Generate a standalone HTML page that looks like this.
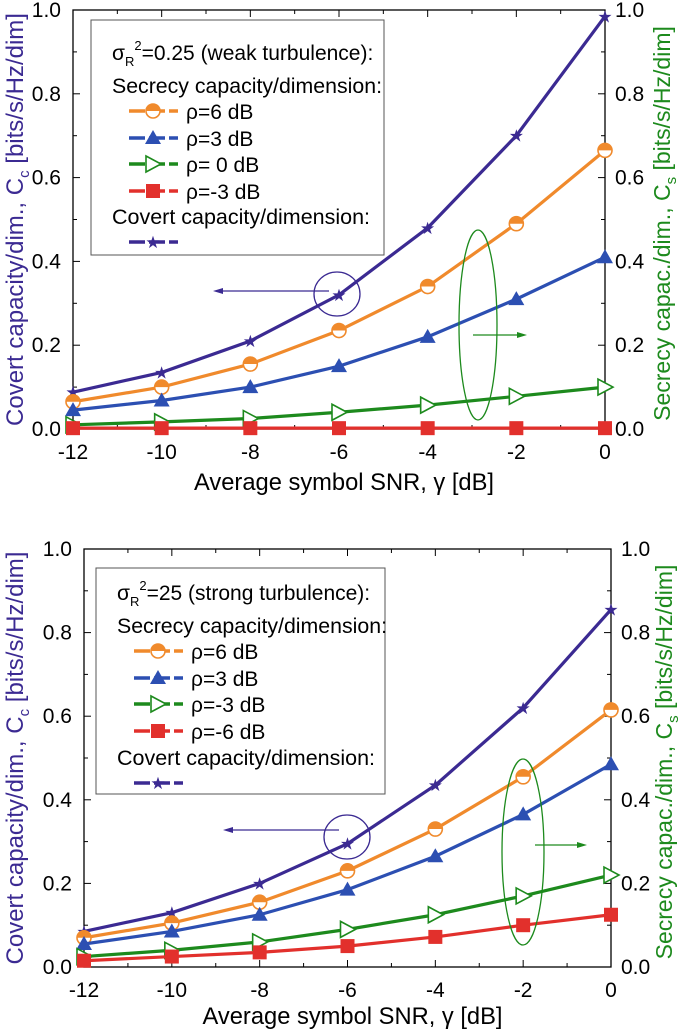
<!DOCTYPE html>
<html><head><meta charset="utf-8"><style>
body{margin:0;background:#fff}
svg{display:block;font-family:"Liberation Sans Narrow","Liberation Sans",sans-serif}
</style></head><body>
<svg id="s" width="685" height="1029" viewBox="0 0 685 1029"></svg>
<script>
const xCats=[-12,-10,-8,-6,-4,-2,0];
const yTicks=[0,0.2,0.4,0.6,0.8,1.0];
const topCovert=[0.088,0.135,0.21,0.32,0.48,0.70,0.985];
const topRho6=[0.065,0.10,0.155,0.235,0.34,0.49,0.665];
const topRho3=[0.045,0.068,0.10,0.15,0.22,0.31,0.41];
const topRho0=[0.01,0.017,0.025,0.04,0.057,0.078,0.10];
const topRhoM3=[0.002,0.002,0.002,0.002,0.002,0.002,0.002];
const botCovert=[0.085,0.13,0.20,0.295,0.435,0.62,0.855];
const botRho6=[0.07,0.105,0.155,0.23,0.33,0.455,0.615];
const botRho3=[0.055,0.085,0.125,0.185,0.265,0.365,0.485];
const botRhoM3=[0.025,0.04,0.06,0.09,0.125,0.17,0.22];
const botRhoM6=[0.015,0.025,0.035,0.05,0.072,0.10,0.125];
const NS='http://www.w3.org/2000/svg';
const svg=document.getElementById('s');
function el(t,a,p,txt){const e=document.createElementNS(NS,t);for(const k in a)e.setAttribute(k,a[k]);if(txt!==undefined)e.textContent=txt;(p||svg).appendChild(e);return e;}
const C={pur:'#3b2a92',org:'#f08a2c',blu:'#2c4fb2',grn:'#1d8a1d',red:'#e2302c'};
function marker(g,type,x,y,col){
  let m;
  if(type==='star'){m=el('text',{x:x,y:y+6,'text-anchor':'middle','font-size':17,fill:col,'font-family':'DejaVu Sans'},g,'★');}
  else if(type==='circ'){m=el('g',{},g);el('circle',{cx:x,cy:y,r:7,fill:'#fff',stroke:col,'stroke-width':1.6},m);el('path',{d:`M${x-7},${y} A7,7 0 0 1 ${x+7},${y} Z`,fill:col},m);}
  else if(type==='tri'){m=el('path',{d:`M${x},${y-8} L${x+8},${y+6} L${x-8},${y+6} Z`,fill:col},g);}
  else if(type==='rtri'){m=el('path',{d:`M${x-7},${y-8} L${x+8},${y} L${x-7},${y+8} Z`,fill:'#fff',stroke:col,'stroke-width':1.6},g);}
  else {m=el('rect',{x:x-7,y:y-7,width:14,height:14,fill:col},g);}
  
  
}
function chart(o){
  const g=el('g',{});
  
  
  const X=v=>o.x0+(v+12)/12*(o.x1-o.x0);
  const Y=v=>o.y0-v*(o.y0-o.y1);
  const L=o.leg;
  const lg=el('g',{},g);
  
  el('rect',{x:L.x,y:L.y,width:L.w,height:L.h,fill:'#fff',stroke:'#555','stroke-width':1},lg);
  const t1=el('text',{x:L.x+21,y:L.rows[0],'font-size':21},lg);
  t1.innerHTML='σ<tspan font-size="13" dy="6">R</tspan><tspan font-size="13" dy="-16">2</tspan><tspan dy="10">'+o.title+'</tspan>';
  el('text',{x:L.x+21,y:L.rows[1],'font-size':21,textLength:270,lengthAdjust:'spacingAndGlyphs'},lg,'Secrecy capacity/dimension:');
  o.series.slice(1).forEach((s,i)=>{const y=L.rows[2+i];
    el('line',{x1:L.x+38,y1:y-7,x2:L.x+87,y2:y-7,stroke:s.col,'stroke-width':3.5,'stroke-dasharray':'16,4'},lg);
    marker(lg,s.m,L.x+62,y-7,s.col);
    el('text',{x:L.x+95,y:y+1,'font-size':21},lg,s.label);});
  el('text',{x:L.x+21,y:L.rows[6],'font-size':21,textLength:258,lengthAdjust:'spacingAndGlyphs'},lg,'Covert capacity/dimension:');
  const ly=L.rows[7]-7;
  el('line',{x1:L.x+38,y1:ly,x2:L.x+87,y2:ly,stroke:C.pur,'stroke-width':3.5,'stroke-dasharray':'16,4'},lg);
  marker(lg,'star',L.x+62,ly,C.pur);

  const fr=el('rect',{x:o.x0,y:o.y1,width:o.x1-o.x0,height:o.y0-o.y1,fill:'none',stroke:'#000','stroke-width':1.3},g);
  
  
  for(let v=-12;v<=0;v+=1){const x=X(v),len=(v%2===0)?7:4;
    el('line',{x1:x,y1:o.y0,x2:x,y2:o.y0-len,stroke:'#000'},g);el('line',{x1:x,y1:o.y1,x2:x,y2:o.y1+len,stroke:'#000'},g);}
  xCats.forEach(v=>{const t=el('text',{x:X(v),y:o.y0+30,'text-anchor':'middle','font-size':21},g,String(v));
    });
  for(let i=0;i<=10;i++){const y=Y(i/10),len=i%2===0?7:4;
    el('line',{x1:o.x0,y1:y,x2:o.x0+len,y2:y,stroke:'#000'},g);el('line',{x1:o.x1,y1:y,x2:o.x1-len,y2:y,stroke:'#000'},g);}
  yTicks.forEach(v=>{
    const a=el('text',{x:o.x0-12,y:Y(v)+7,'text-anchor':'end','font-size':21},g,v.toFixed(1));
    
    const b=el('text',{x:o.x1+10,y:Y(v)+7,'font-size':21},g,v.toFixed(1));
    });
  const xt=el('text',{x:(o.x0+o.x1)/2+5,y:o.xtY,'text-anchor':'middle','font-size':24,textLength:300,lengthAdjust:'spacingAndGlyphs'},g,'Average symbol SNR, γ [dB]');
  
  const cy=(o.y0+o.y1)/2;
  const yl=el('text',{transform:`translate(${o.ylX},${cy}) rotate(-90)`,'text-anchor':'middle','font-size':24,fill:C.pur},g);
  yl.innerHTML='Covert capacity/dim., C<tspan font-size="15" dy="6">c</tspan><tspan dy="-6"> [bits/s/Hz/dim]</tspan>';
  
  const yr=el('text',{transform:`translate(${o.yrX},${cy+4}) rotate(-90)`,'text-anchor':'middle','font-size':23,fill:C.grn},g);
  yr.innerHTML='Secrecy capac./dim., C<tspan font-size="15" dy="6">s</tspan><tspan dy="-6"> [bits/s/Hz/dim]</tspan>';
  
  o.series.forEach(s=>{
    const pts=s.data.map((v,i)=>X(xCats[i])+','+Y(v)).join(' ');
    const pl=el('polyline',{points:pts,fill:'none',stroke:s.col,'stroke-width':3.2},g);
    
    s.data.forEach((v,i)=>marker(g,s.m,X(xCats[i]),Y(v),s.col));
  });
  const A=o.ann;
  el('ellipse',{cx:A.px,cy:A.py,rx:23,ry:22,fill:'none',stroke:C.pur,'stroke-width':1.3},g);
  el('line',{x1:A.px-8,y1:A.pay,x2:A.pax+8,y2:A.pay,stroke:C.pur,'stroke-width':1.3},g);
  el('path',{d:`M${A.pax},${A.pay} l10,-3 v6 z`,fill:C.pur},g);
  el('ellipse',{cx:A.ex,cy:A.ey,rx:A.erx,ry:A.ery,fill:'none',stroke:C.grn,'stroke-width':1.3},g);
  el('line',{x1:A.ax0,y1:A.ay,x2:A.ax1-8,y2:A.ay,stroke:C.grn,'stroke-width':1.3},g);
  el('path',{d:`M${A.ax1},${A.ay} l-10,-3 v6 z`,fill:C.grn},g);
}
chart({name:'weak-turbulence-chart',x0:73,x1:605,y0:429,y1:10,title:'=0.25 (weak turbulence):',xtY:490,ylX:23,yrX:670,
 leg:{x:91,y:20,w:293,h:235,rows:[60,93,118,145,171,198,224,249]},
 ann:{px:337,py:294,pax:213,pay:291,ex:478,ey:325,erx:19,ery:95,ax0:473,ax1:527,ay:335},
 series:[{name:'covert',data:topCovert,col:C.pur,m:'star'},
  {name:'rho6',data:topRho6,col:C.org,m:'circ',label:'ρ=6 dB'},
  {name:'rho3',data:topRho3,col:C.blu,m:'tri',label:'ρ=3 dB'},
  {name:'rho0',data:topRho0,col:C.grn,m:'rtri',label:'ρ= 0 dB'},
  {name:'rhom3',data:topRhoM3,col:C.red,m:'sq',label:'ρ=-3 dB'}]});
chart({name:'strong-turbulence-chart',x0:84,x1:611,y0:967,y1:549,title:'=25 (strong turbulence):',xtY:1024,ylX:23,yrX:672,
 leg:{x:96,y:568,w:289,h:226,rows:[600,633,658,685,711,738,765,790]},
 ann:{px:347,py:837,pax:223,pay:830,ex:523,ey:852,erx:21,ery:93,ax0:535,ax1:587,ay:845},
 series:[{name:'covert',data:botCovert,col:C.pur,m:'star'},
  {name:'rho6',data:botRho6,col:C.org,m:'circ',label:'ρ=6 dB'},
  {name:'rho3',data:botRho3,col:C.blu,m:'tri',label:'ρ=3 dB'},
  {name:'rhom3',data:botRhoM3,col:C.grn,m:'rtri',label:'ρ=-3 dB'},
  {name:'rhom6',data:botRhoM6,col:C.red,m:'sq',label:'ρ=-6 dB'}]});
</script>
</body></html>
